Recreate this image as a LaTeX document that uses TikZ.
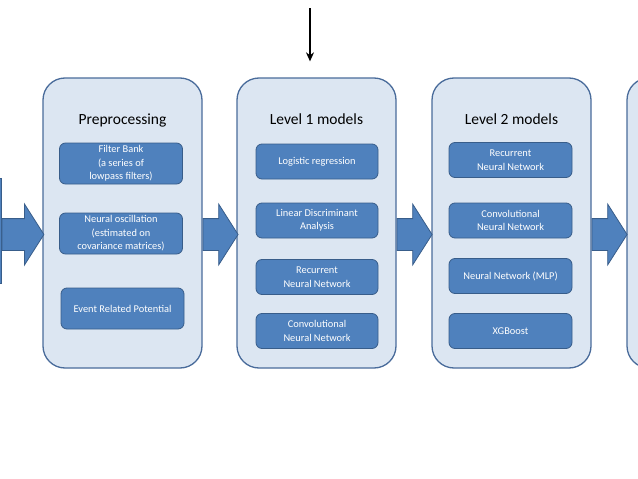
\documentclass[tikz,border=0pt]{standalone}
\usepackage{fontspec}
\setmainfont{Carlito}
\usepackage{tikz}
\usetikzlibrary{shapes, arrows.meta, positioning, calc}
\definecolor{panelfill}{HTML}{DCE6F2}
\definecolor{paneledge}{HTML}{4A6C9B}
\definecolor{boxfill}{HTML}{4F81BD}
\definecolor{boxedge}{HTML}{385D8A}
\tikzstyle{etapa} = [draw=paneledge, fill=panelfill, line width=1.3pt, rectangle, rounded corners=22pt, minimum width=159pt, minimum height=290pt]
\tikzstyle{titulo} = [font=\fontsize{15.5}{17}\selectfont, inner sep=0pt, anchor=base]
\tikzstyle{modelo} = [draw=boxedge, fill=boxfill, line width=0.8pt, rectangle, rounded corners=6pt, text=white, align=center, minimum width=123pt, minimum height=35pt, inner ysep=1pt, font=\fontsize{10.4}{13.5}\selectfont]
\tikzstyle{flecha} = [draw=boxedge, fill=boxfill, line width=0.8pt, single arrow, single arrow head extend=14.5pt, single arrow tip angle=115, inner sep=0pt, text height=15.5pt, text depth=15.5pt, minimum width=31pt, anchor=tail]

\begin{document}
\begin{tikzpicture}[x=1pt, y=-1pt]
		\useasboundingbox[fill=white] (0,0) rectangle (638,479);
		% panels
		\node[draw=boxedge, fill=boxfill, line width=1pt, anchor=east, minimum width=60pt, minimum height=105pt] (inp) at (1.5,230.5) {};
		\node[etapa] (pre) at (122.5,223) {};
		\node[etapa] (lv1) at (316.5,223) {};
		\node[etapa] (lv2) at (511.5,223) {};
		\node[etapa] (out) at (706.5,223) {};
		\node[titulo] (tpre) at ([yshift=-47pt]pre.north) {Preprocessing};
		\node[titulo] (tlv1) at ([yshift=-47pt]lv1.north) {Level 1 models};
		\node[titulo] (tlv2) at ([yshift=-47pt]lv2.north) {Level 2 models};
		% block arrows
		\node[flecha, minimum height=42pt] (f0) at (inp.east |- 0,234.5) {};
		\node[flecha, minimum height=35pt] (f1) at ([yshift=-11.5pt]pre.east) {};
		\node[flecha, minimum height=35pt] (f2) at ([yshift=-11.5pt]lv1.east) {};
		\node[flecha, minimum height=35pt] (f3) at ([yshift=-11.5pt]lv2.east) {};
		% preprocessing
		\node[modelo, minimum height=41pt] (fb) at (121,163.5) {Filter Bank\\(a series of\\lowpass filters)};
		\node[modelo, minimum height=41pt] (no) at (121,233.5) {Neural oscillation\\(estimated on\\covariance matrices)};
		\node[modelo, minimum height=41pt] (erp) at (122.5,308.5) {Event Related Potential};
		% level 1
		\node[modelo, minimum width=122pt] (lr) at (317,161.5) {Logistic regression};
		\node[modelo, minimum width=122pt] (lda) at (317,220.5) {Linear Discriminant\\Analysis};
		\node[modelo, minimum width=122pt] (rnna) at (317,277) {Recurrent\\Neural Network};
		\node[modelo, minimum width=122pt] (cnna) at (317,331) {Convolutional\\Neural Network};
		% level 2
		\node[modelo] (rnnb) at (510.5,160) {Recurrent\\Neural Network};
		\node[modelo] (cnnb) at (510.5,220.5) {Convolutional\\Neural Network};
		\node[modelo] (mlp) at (510.5,276) {Neural Network (MLP)};
		\node[modelo] (xgb) at (510.5,331) {XGBoost};
		% input from above
		\coordinate (feed) at (310,8);
		\draw[line width=1.2pt, -{Stealth[length=9pt,width=8pt]}, shorten >=16pt] (feed) -- (feed |- lv1.north);
	\end{tikzpicture}
\end{document}
